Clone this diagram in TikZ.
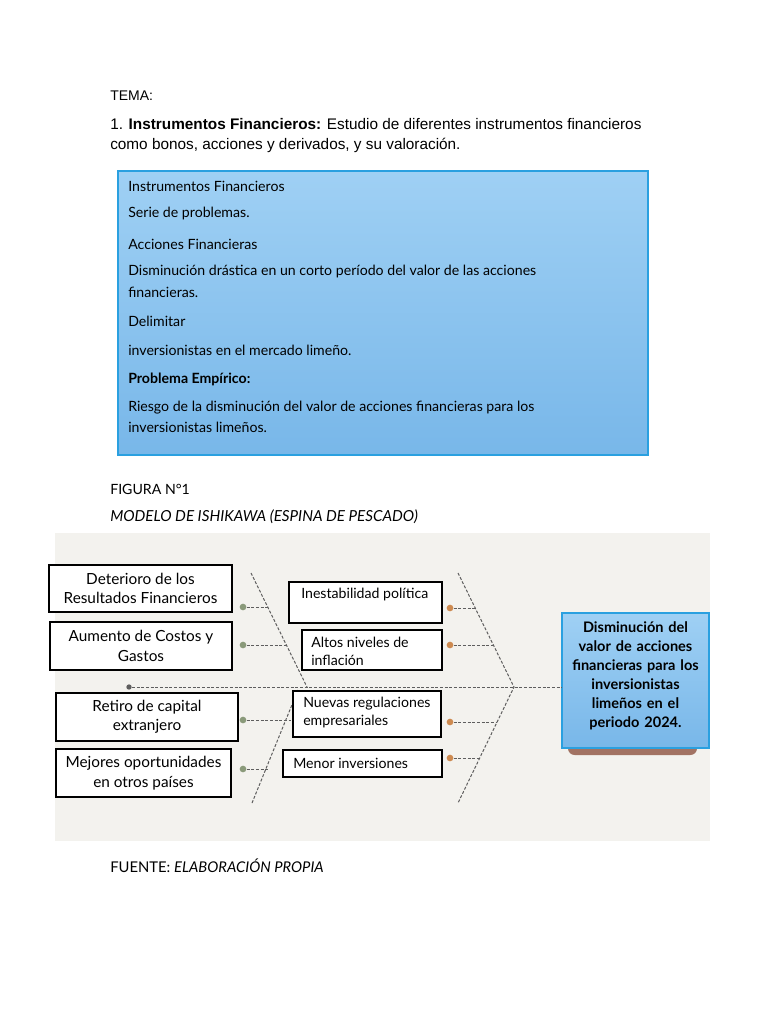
\documentclass[tikz,border=0pt]{standalone}
\usepackage{fontspec}
\setmainfont{Lato}
\newfontfamily\arialfont{Liberation Sans}
\usetikzlibrary{positioning}
\definecolor{skytop}{HTML}{9FD0F4}
\definecolor{skybot}{HTML}{78B7E9}
\definecolor{skyline}{HTML}{2AA0E0}
\definecolor{paper}{HTML}{F3F2EE}
\definecolor{bonegray}{HTML}{5E5E5E}
\definecolor{sagedot}{HTML}{8A9A7A}
\definecolor{rustdot}{HTML}{CD8A50}
\definecolor{clay}{HTML}{A27363}
\tikzset{
  cause/.style={draw=black, fill=white, line width=0.8pt, align=center, inner sep=0pt,
    font=\fontsize{11.5}{14.5}\selectfont},
  subcause/.style={draw=black, fill=white, line width=0.8pt, inner sep=0pt},
  subtext/.style={anchor=west, inner sep=0pt, align=left, font=\fontsize{10.6}{13.5}\selectfont},
  bone/.style={draw=bonegray, dash pattern=on 2.2pt off 1.3pt, line width=0.75pt},
  gdot/.style={circle, fill=sagedot, inner sep=0pt, minimum size=5pt},
  rdot/.style={circle, fill=rustdot, inner sep=0pt, minimum size=5pt},
  plain/.style={anchor=west, inner sep=0pt, font=\fontsize{10.6}{14}\selectfont}
}
\begin{document}
\begin{tikzpicture}[x=0.75pt,y=-0.75pt]
\useasboundingbox[fill=white] (0,0) rectangle (768,1024);
% encabezado
\node[anchor=base west, inner sep=0pt, font=\arialfont\fontsize{10.5}{14}\selectfont] (tema) at (110,100) {TEMA:};
\node[anchor=base west, inner sep=0pt, font=\arialfont\fontsize{11.5}{14}\selectfont] (linea1) at (110,129)
  {1. \textbf{Instrumentos Financieros:} Estudio de diferentes instrumentos financieros};
\node[anchor=base west, inner sep=0pt, font=\arialfont\fontsize{11.5}{14}\selectfont] (linea2) at (110,149)
  {como bonos, acciones y derivados, y su valoración.};
% cuadro azul
\shade[top color=skytop, bottom color=skybot, draw=skyline, line width=0.8pt] (118,171) rectangle (648,455);
\foreach \y/\txt [count=\i] in {186/{Instrumentos Financieros}, 214/{Serie de problemas.}, 244/{Acciones Financieras},
    272/{Disminución drástica en un corto período del valor de las acciones}, 292/{financieras.},
    321/{Delimitar}, 350/{inversionistas en el mercado limeño.}, 379/{\textbf{Problema Empírico:}},
    408/{Riesgo de la disminución del valor de acciones financieras para los}, 427/{inversionistas limeños.}}{
  \node[plain] (t\i) at (128,\y) {\txt};
}
\node[plain] (fig) at (110,489) {FIGURA N°1};
\node[plain, font=\fontsize{11.4}{14}\selectfont\itshape] (modelo) at (110,517) {MODELO DE ISHIKAWA (ESPINA DE PESCADO)};
% espina de pescado
\fill[paper] (55,533) rectangle (710,841);
\coordinate (lt) at (251,573); \coordinate (lj) at (307,687); \coordinate (lb) at (252,803);
\coordinate (rt) at (458,573); \coordinate (rj) at (514,687); \coordinate (rb) at (458,803);
\draw[bone] (lt) -- (lj); \draw[bone] (lb) -- (298,690);
\draw[bone] (rt) -- (rj) -- (rb);
\node[circle, fill=bonegray, inner sep=0pt, minimum size=4pt] (tail) at (129,687) {};
% efecto
\fill[clay, rounded corners=5pt] (568,730) rectangle (697,755);
\node[draw=skyline, line width=0.8pt, top color=skytop, bottom color=skybot,
  text width=145*0.75pt, align=center, inner sep=0pt, minimum width=147*0.75pt, minimum height=135*0.75pt,
  font=\fontsize{10.9}{14.3}\bfseries\selectfont] (efecto) at (635.5,680.5)
  {Disminución del\\valor de acciones\\financieras para los\\inversionistas\\limeños en el\\periodo 2024.\\[-5pt]\mbox{}};
\draw[bone] (tail) -- (tail -| efecto.west);
% causas
\node[cause, minimum width=183*0.75pt, minimum height=47*0.75pt] (c1) at (140.5,588.5) {Deterioro de los\\Resultados Financieros};
\node[cause, minimum width=182*0.75pt, minimum height=48*0.75pt] (c2) at (141,646) {Aumento de Costos y\\Gastos};
\node[cause, minimum width=182*0.75pt, minimum height=48*0.75pt] (c3) at (147,717) {Retiro de capital\\extranjero};
\node[cause, minimum width=175*0.75pt, minimum height=48*0.75pt] (c4) at (143.5,773) {Mejores oportunidades\\en otros países};
\node[subcause, minimum width=153*0.75pt, minimum height=41*0.75pt] (s1) at (365.5,602.5) {};
\node[subtext] (s1t) at (301,595) {Inestabilidad política};
\node[subcause, minimum width=140*0.75pt, minimum height=40*0.75pt] (s2) at (372,650) {};
\node[subtext] (s2t) at (311,651) {Altos niveles de\\inflación};
\node[subcause, minimum width=148*0.75pt, minimum height=46*0.75pt] (s3) at (367,714) {};
\node[subtext] (s3t) at (303,712) {Nuevas regulaciones\\empresariales};
\node[subcause, minimum width=159*0.75pt, minimum height=27*0.75pt] (s4) at (362.5,763.5) {};
\node[subtext] (s4t) at (293,763) {Menor inversiones};
% espinas menores
\foreach \y/\xb [count=\i] in {607/268, 645/286, 720/291, 769/268}{
  \node[gdot] (g\i) at (243,\y) {};
  \coordinate (gb\i) at (\xb,\y);
  \draw[bone] (g\i) -- (gb\i);
}
\foreach \y/\xb [count=\i] in {608/475, 645/493, 722/497, 758/480}{
  \node[rdot] (r\i) at (450,\y) {};
  \coordinate (rb\i) at (\xb,\y);
  \draw[bone] (r\i) -- (rb\i);
}
\node[plain, font=\fontsize{11.1}{14}\selectfont] (fuente) at (110,866) {FUENTE: \textit{ELABORACIÓN PROPIA}};
\end{tikzpicture}
\end{document}
